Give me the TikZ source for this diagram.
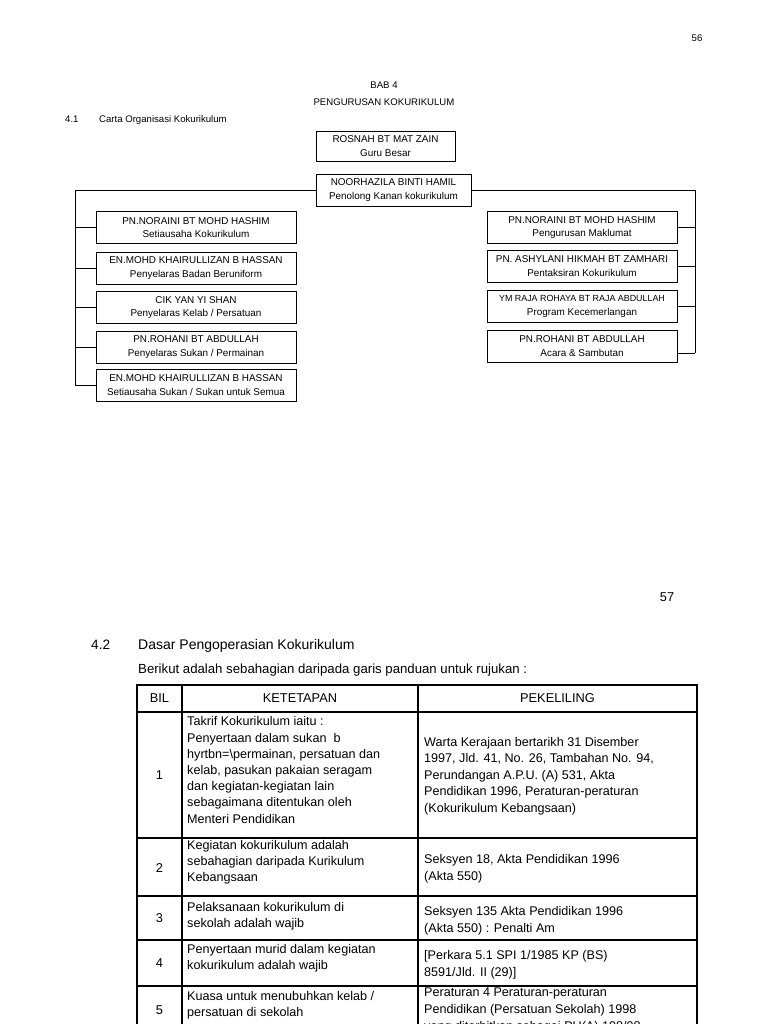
\documentclass[tikz,border=0pt]{standalone}
\usepackage{fontspec}
\setmainfont{Liberation Sans}
\usetikzlibrary{positioning}
\tikzset{
  orgbox/.style={draw, line width=0.8pt, align=center, inner sep=1pt,
    minimum height=32pt, font=\fontsize{9.9}{13.4}\selectfont},
  head/.style={font=\fontsize{9.6}{11}\selectfont},
  cell/.style={align=left, anchor=west, inner sep=0pt,
    font=\fontsize{12.6}{16.2}\selectfont},
  num/.style={inner sep=0pt, font=\fontsize{12.8}{16}\selectfont},
}
\begin{document}
\begin{tikzpicture}[x=1pt,y=-1pt]
\useasboundingbox (0,0) rectangle (768,1024);
\fill[white] (0,0) rectangle (768,1024);
\clip (0,0) rectangle (768,1024);
% page 56: carta organisasi
\node[head] (pg56) at (697,38) {56};
\node[head] (bab) at (384,85) {BAB 4};
\node[head] (tajuk) at (384,102) {PENGURUSAN KOKURIKULUM};
\node[head, anchor=base west, inner sep=0pt] (s41) at (65,122.5) {4.1};
\node[head, anchor=base west, inner sep=0pt] (carta) at (99,122.5) {Carta Organisasi Kokurikulum};
\node[orgbox, minimum width=139pt, minimum height=30pt] (gb) at (385.5,146) {ROSNAH BT MAT ZAIN\\Guru Besar};
\node[orgbox, minimum width=155pt] (pk) at (393.5,190) {NOORHAZILA BINTI HAMIL\\Penolong Kanan kokurikulum};
\foreach \i/\y/\nama/\tugas in {
  1/227.5/{PN.NORAINI BT MOHD HASHIM}/{Setiausaha Kokurikulum},
  2/268/{EN.MOHD KHAIRULLIZAN B HASSAN}/{Penyelaras Badan Beruniform},
  3/307.5/{CIK YAN YI SHAN}/{Penyelaras Kelab / Persatuan},
  4/347/{PN.ROHANI BT ABDULLAH}/{Penyelaras Sukan / Permainan},
  5/385/{EN.MOHD KHAIRULLIZAN B HASSAN}/{Setiausaha Sukan / Sukan untuk Semua}}
  \node[orgbox, minimum width=200pt] (l\i) at (196,\y) {\nama\\\tugas};
\foreach \i/\y/\nama/\tugas in {
  1/227.5/{PN.NORAINI BT MOHD HASHIM}/{Pengurusan Maklumat},
  2/266/{PN. ASHYLANI HIKMAH BT ZAMHARI}/{Pentaksiran Kokurikulum},
  3/306.5/{{\fontsize{8.9}{13.4}\selectfont YM RAJA ROHAYA BT RAJA ABDULLAH}}/{Program Kecemerlangan},
  4/346/{PN.ROHANI BT ABDULLAH}/{Acara \& Sambutan}}
  \node[orgbox, minimum width=190pt] (r\i) at (582,\y) {\nama\\\tugas};
\coordinate (kiri) at (75,385);
\coordinate (kanan) at (695,353);
\draw[line width=0.8pt] (pk.west) -| (kiri);
\draw[line width=0.8pt] (pk.east) -| (kanan);
\foreach \i in {1,...,5} \draw[line width=0.8pt] (l\i.west) -- (l\i.west -| kiri);
\foreach \i in {1,2,3} \draw[line width=0.8pt] (r\i.east) -- (r\i.east -| kanan);
\draw[line width=0.8pt] ([yshift=-7pt]r4.east) -- (kanan);
% page 57: dasar pengoperasian
\node[font=\fontsize{12.8}{15}\selectfont] (pg57) at (667,597) {57};
\node[font=\fontsize{13.6}{15}\selectfont, anchor=base west, inner sep=0pt] (s42) at (91,649) {4.2};
\node[font=\fontsize{14}{15}\selectfont, anchor=base west, inner sep=0pt] (dasar) at (138,649) {Dasar Pengoperasian Kokurikulum};
\node[font=\fontsize{13.2}{15}\selectfont, anchor=base west, inner sep=0pt] (berikut) at (138,673) {Berikut adalah sebahagian daripada garis panduan untuk rujukan :};
\draw[line width=1.2pt] (137,1040) -- (137,685) -- (697,685) -- (697,1040);
\foreach \x in {182,418} \draw[line width=1.2pt] (\x,685) -- (\x,1040);
\foreach \y in {712,838,896,940,986} \draw[line width=1.2pt] (137,\y) -- (697,\y);
\node[num] (bil) at (159.5,698.5) {BIL};
\node[num] (ketetapan) at (300,698.5) {KETETAPAN};
\node[num] (pekeliling) at (557.5,698.5) {PEKELILING};
\node[num] (n1) at (159.5,775) {1};
\node[cell] (k1) at (187,770) {Takrif Kokurikulum iaitu :\\Penyertaan dalam sukan \ b\\hyrtbn=\textbackslash permainan, persatuan dan\\kelab, pasukan pakaian seragam\\dan kegiatan-kegiatan lain\\sebagaimana ditentukan oleh\\Menteri Pendidikan};
\node[cell, font=\fontsize{12.6}{16.6}\selectfont] (p1) at (424,776) {Warta Kerajaan bertarikh 31 Disember\\1997, Jld. 41, No. 26, Tambahan No. 94,\\Perundangan A.P.U. (A) 531, Akta\\Pendidikan 1996, Peraturan-peraturan\\(Kokurikulum Kebangsaan)};
\node[num] (n2) at (159.5,868) {2};
\node[cell] (k2) at (187,862) {Kegiatan kokurikulum adalah\\sebahagian daripada Kurikulum\\Kebangsaan};
\node[cell, font=\fontsize{12.6}{16.6}\selectfont] (p2) at (424,868.5) {Seksyen 18, Akta Pendidikan 1996\\(Akta 550)};
\node[num] (n3) at (159.5,918) {3};
\node[cell] (k3) at (187,916.5) {Pelaksanaan kokurikulum di\\sekolah adalah wajib};
\node[cell, font=\fontsize{12.6}{16.6}\selectfont] (p3) at (424,920.5) {Seksyen 135 Akta Pendidikan 1996\\(Akta 550) : Penalti Am};
\node[num] (n4) at (159.5,963) {4};
\node[cell] (k4) at (187,958) {Penyertaan murid dalam kegiatan\\kokurikulum adalah wajib};
\node[cell, font=\fontsize{12.6}{16.6}\selectfont] (p4) at (424,965) {[Perkara 5.1 SPI 1/1985 KP (BS)\\8591/Jld. II (29)]};
\node[num] (n5) at (159.5,1010) {5};
\node[cell] (k5) at (187,1005.5) {Kuasa untuk menubuhkan kelab /\\persatuan di sekolah};
\node[cell, font=\fontsize{12.6}{16.6}\selectfont, anchor=north west] (p5) at (424,988) {Peraturan 4 Peraturan-peraturan\\Pendidikan (Persatuan Sekolah) 1998\\yang diterbitkan sebagai PU(A) 198/98};
\end{tikzpicture}
\end{document}
